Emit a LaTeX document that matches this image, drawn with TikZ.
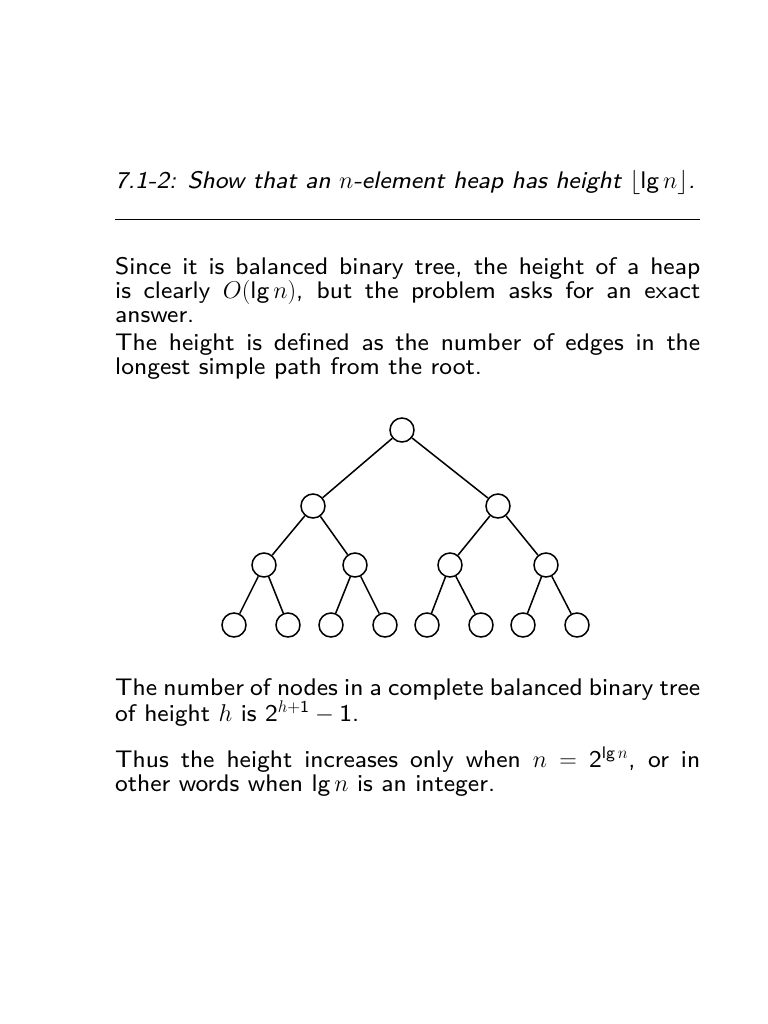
\documentclass[tikz,border=0pt]{standalone}
\usepackage{amsmath}
\usepackage{fontspec}
\setsansfont{lmsans8-regular.otf}[ItalicFont=lmsans8-oblique.otf, BoldFont=lmsans10-bold.otf]
\usetikzlibrary{positioning}
\tikzstyle{heapnode} = [circle, draw, line width=1.3pt, minimum size=0.72cm, inner sep=0pt]
\tikzstyle{heapedge} = [line width=1.3pt]
\tikzstyle{para} = [anchor=north west, inner sep=0pt, text width=17.55cm, align=justify, font=\sffamily\fontsize{20.5}{20.5}\selectfont]
\newcommand{\lgn}{\mathsf{lg}\,n}

\begin{document}
\begin{tikzpicture}[x=0.03cm, y=-0.03cm]
                    \useasboundingbox (0,0) rectangle (768,1024);
                    \node[para] (title) at (115,170) {\textit{7.1-2: Show that an $n$-element heap has height $\lfloor\lgn\rfloor$.}};
                    \coordinate (ruleleft) at (115,219);
                    \coordinate (ruleright) at (700,219);
                    \draw[line width=0.6pt] (ruleleft) -- (ruleright);

                    \node[para] (since) at (115,257) {Since it is balanced binary tree, the height of a heap is clearly $O(\lgn)$, but the problem asks for an exact answer.};
                    \node[para] (defn) at (115,333) {The height is defined as the number of edges in the longest simple path from the root.};

                    % the tree
                    \node[heapnode] (r) at (402,430) {};
                    \node[heapnode] (a) at (313,506) {};
                    \node[heapnode] (b) at (498,506) {};
                    \node[heapnode] (aa) at (264,565) {};
                    \node[heapnode] (ab) at (355,565) {};
                    \node[heapnode] (ba) at (450,565) {};
                    \node[heapnode] (bb) at (546,565) {};
                    \node[heapnode] (aaa) at (234,625) {};
                    \node[heapnode] (aab) at (288,625) {};
                    \node[heapnode] (aba) at (331,625) {};
                    \node[heapnode] (abb) at (385,625) {};
                    \node[heapnode] (baa) at (427,625) {};
                    \node[heapnode] (bab) at (481,625) {};
                    \node[heapnode] (bba) at (523,625) {};
                    \node[heapnode] (bbb) at (577,625) {};
                    \foreach \p/\c in {r/a, r/b, a/aa, a/ab, b/ba, b/bb, aa/aaa, aa/aab, ab/aba, ab/abb, ba/baa, ba/bab, bb/bba, bb/bbb}
                        \draw[heapedge] (\p) -- (\c);

                    \node[para] (count) at (115,678) {The number of nodes in a complete balanced binary tree of height $h$ is $\mathsf{2}^{h+\mathsf{1}}-\mathsf{1}$.};
                    \node[para] (thus) at (115,747) {Thus the height increases only when $n=\mathsf{2}^{\lgn}$, or in other words when $\lgn$ is an integer.};
                \end{tikzpicture}
\end{document}
